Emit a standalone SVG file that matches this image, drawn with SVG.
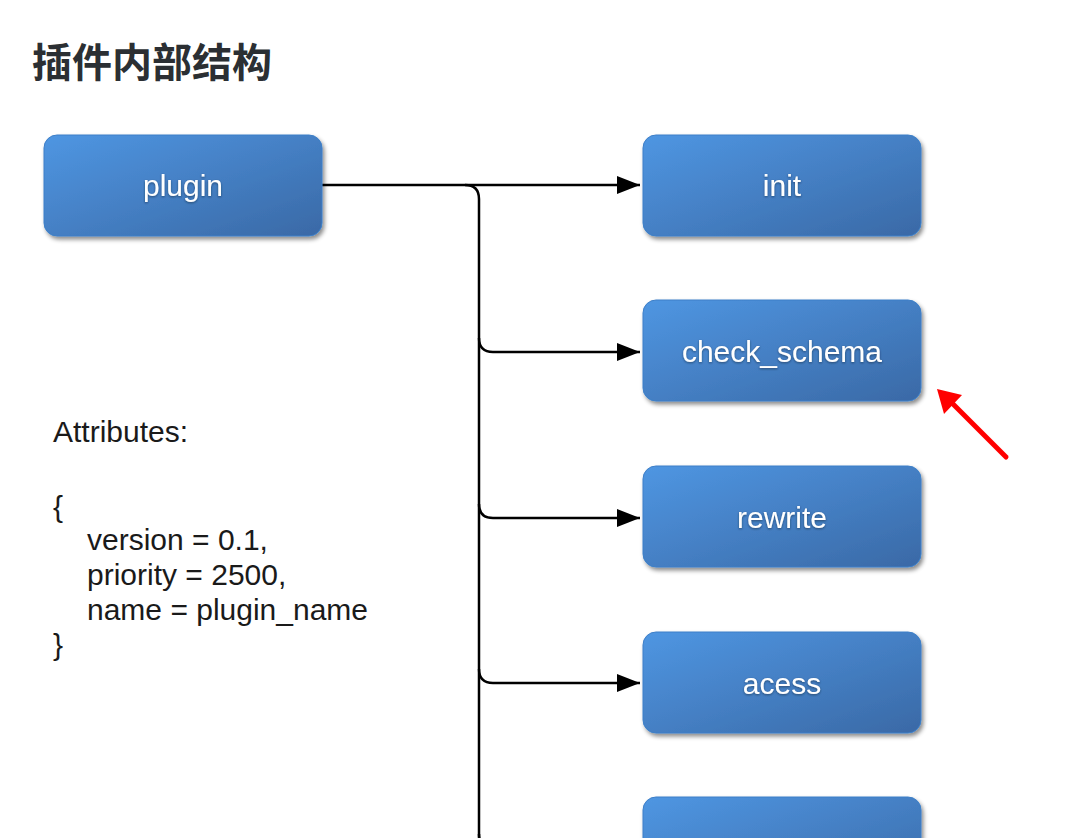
<svg xmlns="http://www.w3.org/2000/svg" width="1078" height="838" viewBox="0 0 1078 838">
<defs>
<linearGradient id="nodeGrad" x1="0" y1="0" x2="1" y2="1">
<stop offset="0" stop-color="#4f96e2"/>
<stop offset="1" stop-color="#3a69a6"/>
</linearGradient>
<filter id="shadow" x="-10%" y="-20%" width="125%" height="150%">
<feDropShadow dx="2" dy="3" stdDeviation="2.2" flood-color="#000" flood-opacity="0.45"/>
</filter>
<filter id="tshadow" x="-10%" y="-30%" width="120%" height="160%">
<feDropShadow dx="0" dy="1" stdDeviation="0.8" flood-color="#123" flood-opacity="0.55"/>
</filter>
<marker id="arrow" markerWidth="24" markerHeight="20" refX="23" refY="9" orient="auto" markerUnits="userSpaceOnUse">
<path d="M0,0 L23,9 L0,18 Z" fill="#000"/>
</marker>
<style>
.node{fill:url(#nodeGrad);stroke:#3d7fc8;stroke-width:1;filter:url(#shadow)}
.label{font-family:"Liberation Sans","Helvetica",Arial,sans-serif;font-size:30px;fill:#fff;text-anchor:middle;filter:url(#tshadow)}
.conn{fill:none;stroke:#000;stroke-width:2.5}
.attr{font-family:"Liberation Sans",Arial,sans-serif;font-size:30px;fill:#1a1a1a}
</style>
</defs>
<rect width="1078" height="838" fill="#fff"/>
<text x="32" y="77" font-family="'Noto Sans CJK SC','Noto Sans',sans-serif" font-size="40" font-weight="bold" fill="#2b2f33">插件内部结构</text>
<g id="connectors">
<path class="conn" d="M322,185 H640" marker-end="url(#arrow)"/>
<path class="conn" d="M465,185 Q479,185 479,199 V860" stroke-width="3"/>
<path class="conn" d="M479,338 Q479,352 493,352 H640" marker-end="url(#arrow)"/>
<path class="conn" d="M479,504 Q479,518 493,518 H640" marker-end="url(#arrow)"/>
<path class="conn" d="M479,669 Q479,683 493,683 H640" marker-end="url(#arrow)"/>
<path class="conn" d="M479,834 Q479,848 493,848 H640" marker-end="url(#arrow)"/>
</g>
<g id="node-plugin">
<rect class="node" x="44" y="135" width="278" height="101" rx="13"/>
<text class="label" x="183" y="196">plugin</text>
</g>
<g id="node-init">
<rect class="node" x="643" y="135" width="278" height="101" rx="13"/>
<text class="label" x="782" y="196">init</text>
</g>
<g id="node-check_schema">
<rect class="node" x="643" y="300" width="278" height="101" rx="13"/>
<text class="label" x="782" y="362">check_schema</text>
</g>
<g id="node-rewrite">
<rect class="node" x="643" y="466" width="278" height="101" rx="13"/>
<text class="label" x="782" y="528">rewrite</text>
</g>
<g id="node-acess">
<rect class="node" x="643" y="632" width="278" height="101" rx="13"/>
<text class="label" x="782" y="694">acess</text>
</g>
<g id="node-next">
<rect class="node" x="643" y="797" width="278" height="101" rx="13"/>
</g>
<g id="attributes">
<text class="attr" x="53" y="442">Attributes:</text>
<text class="attr" x="53" y="517">{</text>
<text class="attr" x="87" y="550">version = 0.1,</text>
<text class="attr" x="87" y="585">priority = 2500,</text>
<text class="attr" x="87" y="620">name = plugin_name</text>
<text class="attr" x="53" y="655">}</text>
</g>
<g id="red-arrow">
<line x1="1006" y1="457" x2="952" y2="403" stroke="#ff0000" stroke-width="5" stroke-linecap="round"/>
<polygon points="937,389 962,395 944,414" fill="#ff0000"/>
</g>
</svg>
